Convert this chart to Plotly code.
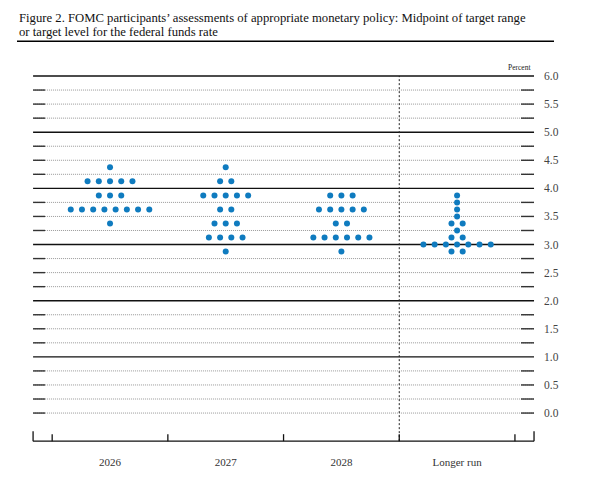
import plotly.graph_objects as go

# ---- data ----
categories = ["2026", "2027", "2028", "Longer run"]
y2026 = [4.375] + [4.125]*5 + [3.875]*3 + [3.625]*8 + [3.375]
y2027 = [4.375] + [4.125]*2 + [3.875]*5 + [3.625]*2 + [3.375]*3 + [3.125]*4 + [2.875]
y2028 = [3.875]*3 + [3.625]*5 + [3.375]*2 + [3.125]*6 + [2.875]
y_longer = [3.875, 3.75, 3.625, 3.5] + [3.375]*2 + [3.25] + [3.125]*2 + [3.0]*7 + [2.875]*2
series = [y2026, y2027, y2028, y_longer]
tick_vals = [i * 0.5 for i in range(13)]
tick_text = ["%.1f" % v for v in tick_vals]

# ---- geometry (pixel layout) ----
W, H = 599, 480
L_PX, R_PX = 31, 539
T_PX, B_PX = 70, 447
XMIN, XMAX = -0.683, 3.708
YMIN, YMAX = -0.551, 6.107
x_left, x_right = -0.665, 3.665      # extent of rules
y_axis = -0.50
DOT_SP = 0.097                      # horizontal dot spacing in category units
DOT_COLOR = "#0f7bbf"

xs, ys = [], []
for ci, vals in enumerate(series):
    counts = {}
    for v in vals:
        counts[v] = counts.get(v, 0) + 1
    for v, n in counts.items():
        for k in range(n):
            xs.append(ci + (k - (n - 1) / 2) * DOT_SP)
            ys.append(v)

fig = go.Figure()
fig.add_trace(go.Scatter(x=xs, y=ys, mode="markers",
                         marker=dict(size=6, color=DOT_COLOR),
                         hoverinfo="skip", showlegend=False, cliponaxis=False))

shapes = []
px_per_x = (R_PX - L_PX) / (XMAX - XMIN)
px_per_y = (B_PX - T_PX) / (YMAX - YMIN)
dash_l = 12 / px_per_x
dash_r = 13 / px_per_x
for i in range(25):
    v = i * 0.25
    if i % 4 == 0 and i > 0:
        shapes.append(dict(type="line", xref="x", yref="y", x0=x_left, x1=x_right,
                           y0=v, y1=v, line=dict(color="#111", width=1.4), layer="below"))
    else:
        shapes.append(dict(type="line", xref="x", yref="y", x0=x_left, x1=x_right,
                           y0=v, y1=v, line=dict(color="#999", width=1, dash="1px,1px"), layer="below"))
        shapes.append(dict(type="line", xref="x", yref="y", x0=x_left, x1=x_left + dash_l,
                           y0=v, y1=v, line=dict(color="#333", width=1.4), layer="below"))
        shapes.append(dict(type="line", xref="x", yref="y", x0=x_right - dash_r, x1=x_right,
                           y0=v, y1=v, line=dict(color="#333", width=1.4), layer="below"))

# vertical dotted separator
shapes.append(dict(type="line", xref="x", yref="y", x0=2.5, x1=2.5, y0=y_axis, y1=6.0,
                   line=dict(color="#222", width=1, dash="2px,2px"), layer="below"))
# bottom axis
shapes.append(dict(type="line", xref="x", yref="y", x0=x_left, x1=x_right, y0=y_axis, y1=y_axis,
                   line=dict(color="#111", width=1.3)))
for bx in [-0.5, 0.5, 1.5, 2.5, 3.5]:
    shapes.append(dict(type="line", xref="x", yref="y", x0=bx, x1=bx,
                       y0=y_axis, y1=y_axis + 7 / px_per_y, line=dict(color="#111", width=1.3)))
for bx in [x_left, x_right]:
    shapes.append(dict(type="line", xref="x", yref="y", x0=bx, x1=bx,
                       y0=y_axis, y1=y_axis + 10 / px_per_y, line=dict(color="#111", width=1.3)))

# helpers: image pixel -> paper coords
def px_x(p):
    return (p - L_PX) / (R_PX - L_PX)
def px_y(p):
    return (B_PX - p) / (B_PX - T_PX)

shapes.append(dict(type="line", xref="paper", yref="paper", x0=px_x(17), x1=px_x(554),
                   y0=px_y(41), y1=px_y(41), line=dict(color="#000", width=1.6)))

title_font = dict(family="Liberation Serif, serif", size=12.7, color="#111")
annotations = [
    dict(text="Figure 2. FOMC participants’ assessments of appropriate monetary policy: Midpoint of target range",
         xref="paper", yref="paper", x=px_x(17), y=px_y(18), xanchor="left", yanchor="middle",
         showarrow=False, font=title_font),
    dict(text="or target level for the federal funds rate",
         xref="paper", yref="paper", x=px_x(17), y=px_y(32), xanchor="left", yanchor="middle",
         showarrow=False, font=title_font),
    dict(text="Percent", xref="paper", yref="paper", x=px_x(533), y=px_y(74),
         xanchor="right", yanchor="bottom", showarrow=False,
         font=dict(family="Liberation Serif, serif", size=7.5, color="#222")),
]

fig.update_layout(
    width=W, height=H,
    margin=dict(l=L_PX, r=W - R_PX, t=T_PX, b=H - B_PX, pad=0),
    paper_bgcolor="white", plot_bgcolor="white",
    shapes=shapes, annotations=annotations,
    xaxis=dict(range=[XMIN, XMAX], tickvals=list(range(len(categories))), ticktext=categories,
               showgrid=False, zeroline=False, showline=False, ticks="",
               ticklabelstandoff=10,
               tickfont=dict(family="Liberation Serif, serif", size=11, color="#333")),
    yaxis=dict(range=[YMIN, YMAX], side="right", tickvals=tick_vals, ticktext=tick_text,
               showgrid=False, zeroline=False, showline=False, ticks="",
               ticklabelstandoff=4,
               tickfont=dict(family="Liberation Serif, serif", size=11.5, color="#444")),
    showlegend=False,
)

fig.write_html("out.html", config={"displayModeBar": False},
               post_script="document.body.style.margin='0';document.body.style.overflow='hidden';")
